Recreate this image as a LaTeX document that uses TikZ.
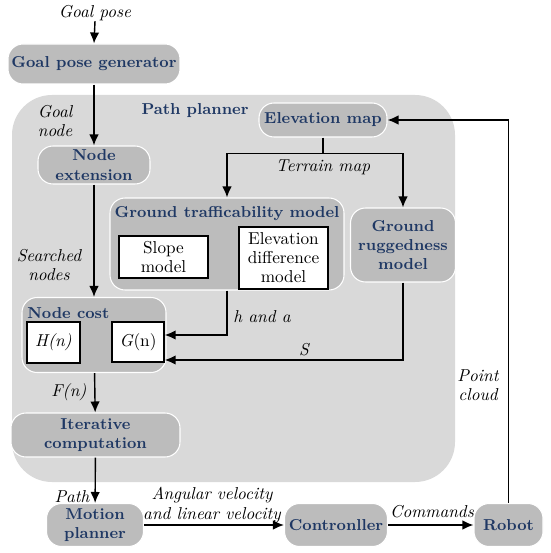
\documentclass[tikz,border=0pt]{standalone}
\usetikzlibrary{calc}
\usetikzlibrary{arrows.meta}

\definecolor{navy}{RGB}{31,56,100}
\definecolor{boxgray}{RGB}{188,188,188}
\definecolor{backgray}{RGB}{217,217,217}

\tikzset{
  block/.style={draw=white, line width=0.6pt, fill=boxgray, rounded corners=0.3cm,
    text=navy, font=\fontsize{9}{11}\selectfont\bfseries, align=center, inner sep=0pt},
  sub/.style={draw=black, line width=0.8pt, fill=white,
    font=\fontsize{9.8}{10.8}\selectfont, align=center, inner sep=0pt},
  lbl/.style={font=\fontsize{9.8}{11}\selectfont\itshape, align=center, inner sep=0pt},
  flow/.style={line width=0.8pt, -{Latex[length=2.2mm,width=1.9mm]}}
}

\begin{document}
\begin{tikzpicture}[x=0.02cm, y=-0.02cm]
\useasboundingbox (0,0) rectangle (550,553);

\draw[fill=backgray, draw=none, rounded corners=0.8cm] (12,95) rectangle (455,482);
\node[text=navy, font=\fontsize{9}{11}\selectfont\bfseries] (title) at (195,111) {Path planner};

\node[block, minimum width=3.44cm, minimum height=0.8cm] (gen) at (94,64) {Goal pose generator};
\node[block, minimum width=2.56cm, minimum height=0.68cm] (elev) at (323,120) {Elevation map};
\node[block, minimum width=2.24cm, minimum height=0.76cm] (ext) at (94,165) {Node\\extension};
\node[block, minimum width=4.68cm, minimum height=1.84cm] (gtm) at (227,244) {};
\node[text=navy, font=\fontsize{9}{11}\selectfont\bfseries] (gtmtitle) at (227,214) {Ground trafficability model};
\node[sub, minimum width=1.78cm, minimum height=0.84cm] (slope) at (163.5,257) {Slope\\model};
\node[sub, minimum width=1.78cm, minimum height=1.24cm] (ediff) at (283.5,258) {Elevation\\difference\\model};
\node[block, minimum width=2.1cm, minimum height=1.48cm] (grm) at (403,245) {Ground\\ruggedness\\model};
\node[block, minimum width=2.88cm, minimum height=1.5cm] (cost) at (94,335) {};
\node[text=navy, font=\fontsize{9}{11}\selectfont\bfseries, anchor=west, inner sep=0pt] (costtitle) at (27,313) {Node cost};
\node[sub, minimum width=1.06cm, minimum height=0.82cm] (hn) at (53.5,342.5) {\textit{H(n)}};
\node[sub, minimum width=1.04cm, minimum height=0.8cm] (gn) at (138,342) {\textit{G}(n)};
\node[block, minimum width=3.38cm, minimum height=0.88cm] (iter) at (95.5,435) {Iterative\\computation};
\node[block, minimum width=1.94cm, minimum height=0.86cm] (motion) at (95,525) {Motion\\planner};
\node[block, minimum width=2.06cm, minimum height=0.86cm] (ctrl) at (336,525) {Contronller};
\node[block, minimum width=1.38cm, minimum height=0.86cm] (robot) at (508.5,525) {Robot};

\node[lbl] (goalin) at (95,13) {Goal pose};
\coordinate (split) at ($(elev.south)+(0,16)$);

% connections
\draw[flow] (goalin.south) -- (gen.north);
\draw[flow] (gen) -- (ext);
\draw[line width=0.8pt] (elev.south) -- (split);
\draw[flow] (split) -| (gtm.north);
\draw[flow] (split) -| (grm.north);
\draw[flow] (ext) -- (cost);
\draw[flow] (gtm.south) |- ([yshift=0.14cm]gn.east);
\draw[flow] (grm.south) |- ([yshift=-0.36cm]gn.east);
\draw[flow] (cost) -- (iter);
\draw[flow] (iter) -- (motion);
\draw[flow] (motion) -- (ctrl);
\draw[flow] (ctrl) -- (robot);
\draw[flow] (robot.north) |- (elev.east);

% labels
\node[lbl] (lgoal) at (55,121) {Goal\\node};
\node[lbl] (lterrain) at (323,167) {Terrain map};
\node[lbl] (lsearch) at (49,265) {Searched\\nodes};
\node[lbl] (lha) at (262,317) {h and a};
\node[lbl] (ls) at (304,350) {S};
\node[lbl] (lf) at (69,392) {F(n)};
\node[lbl] (lpath) at (72,497) {Path};
\node[lbl] (lvel) at (212,505) {Angular velocity\\and linear velocity};
\node[lbl] (lcmd) at (432,512) {Commands};
\node[lbl] (lcloud) at (478,385) {Point\\cloud};

\end{tikzpicture}
\end{document}
